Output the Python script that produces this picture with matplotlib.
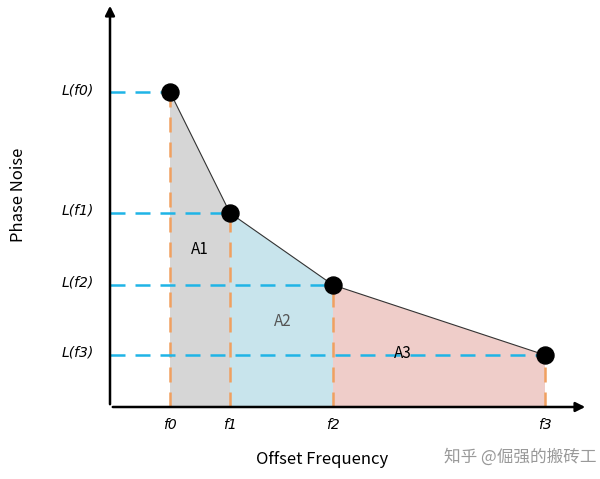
import matplotlib.pyplot as plt
from matplotlib.patches import Polygon

plt.rcParams['font.family'] = ['Noto Sans CJK SC', 'DejaVu Sans']

# data (pixel-like units relative to the origin)
freq_labels = ['f0', 'f1', 'f2', 'f3']
freqs = [60, 120, 223, 435]
level_labels = ['L(f0)', 'L(f1)', 'L(f2)', 'L(f3)']
levels = [315, 194, 122, 52]
area_labels = ['A1', 'A2', 'A3']
area_label_x = [90, 173, 293]
area_label_y = [158, 85, 53]
area_colors = ['#d6d6d6', '#c8e4ec', '#efcdc9']
area_text_colors = ['black', '#555555', 'black']

fig = plt.figure(figsize=(6, 4.79), dpi=100)
ax = fig.add_axes([0, 0, 1, 1])
ax.set_xlim(-110, 490)
ax.set_ylim(-72, 407)
ax.axis('off')

# shaded areas
for i in range(3):
    pts = [(freqs[i], 0), (freqs[i], levels[i]), (freqs[i + 1], levels[i + 1]), (freqs[i + 1], 0)]
    ax.add_patch(Polygon(pts, closed=True, facecolor=area_colors[i], edgecolor='none', zorder=1))
    ax.text(area_label_x[i], area_label_y[i], area_labels[i], ha='center', va='center',
            fontsize=11, color=area_text_colors[i], zorder=5)

# dashed guides
for f, L in zip(freqs, levels):
    ax.plot([0, f], [L, L], color='#1fb4e6', lw=1.8, ls=(0, (6, 4)), zorder=2)
    ax.plot([f, f], [0, L], color='#f0a060', lw=1.8, ls=(0, (6, 4)), zorder=2)

ax.plot(freqs, levels, color='#333333', lw=0.8, zorder=3)
ax.scatter(freqs, levels, s=150, color='black', zorder=4)

# axes with arrows
ax.annotate('', xy=(478, 0), xytext=(0, 0),
            arrowprops=dict(arrowstyle='-|>', color='black', lw=1.8, mutation_scale=14))
ax.annotate('', xy=(0, 404), xytext=(0, 0),
            arrowprops=dict(arrowstyle='-|>', color='black', lw=1.8, mutation_scale=14))

for f, lab in zip(freqs, freq_labels):
    ax.text(f, -18, lab, ha='center', va='center', fontsize=10, style='italic',
            family=['DejaVu Sans'])
for L, lab in zip(levels, level_labels):
    ax.text(-32, L + 2, lab, ha='center', va='center', fontsize=10, style='italic',
            family=['DejaVu Sans'])

ax.text(212, -52, 'Offset Frequency', ha='center', va='center', fontsize=12)
ax.text(-92, 212, 'Phase Noise', ha='center', va='center', fontsize=12, rotation=90)
ax.text(410, -50, '知乎 @倔强的搬砖工', ha='center', va='center', fontsize=12, color='#999999')

fig.savefig('out.png', dpi=100)
